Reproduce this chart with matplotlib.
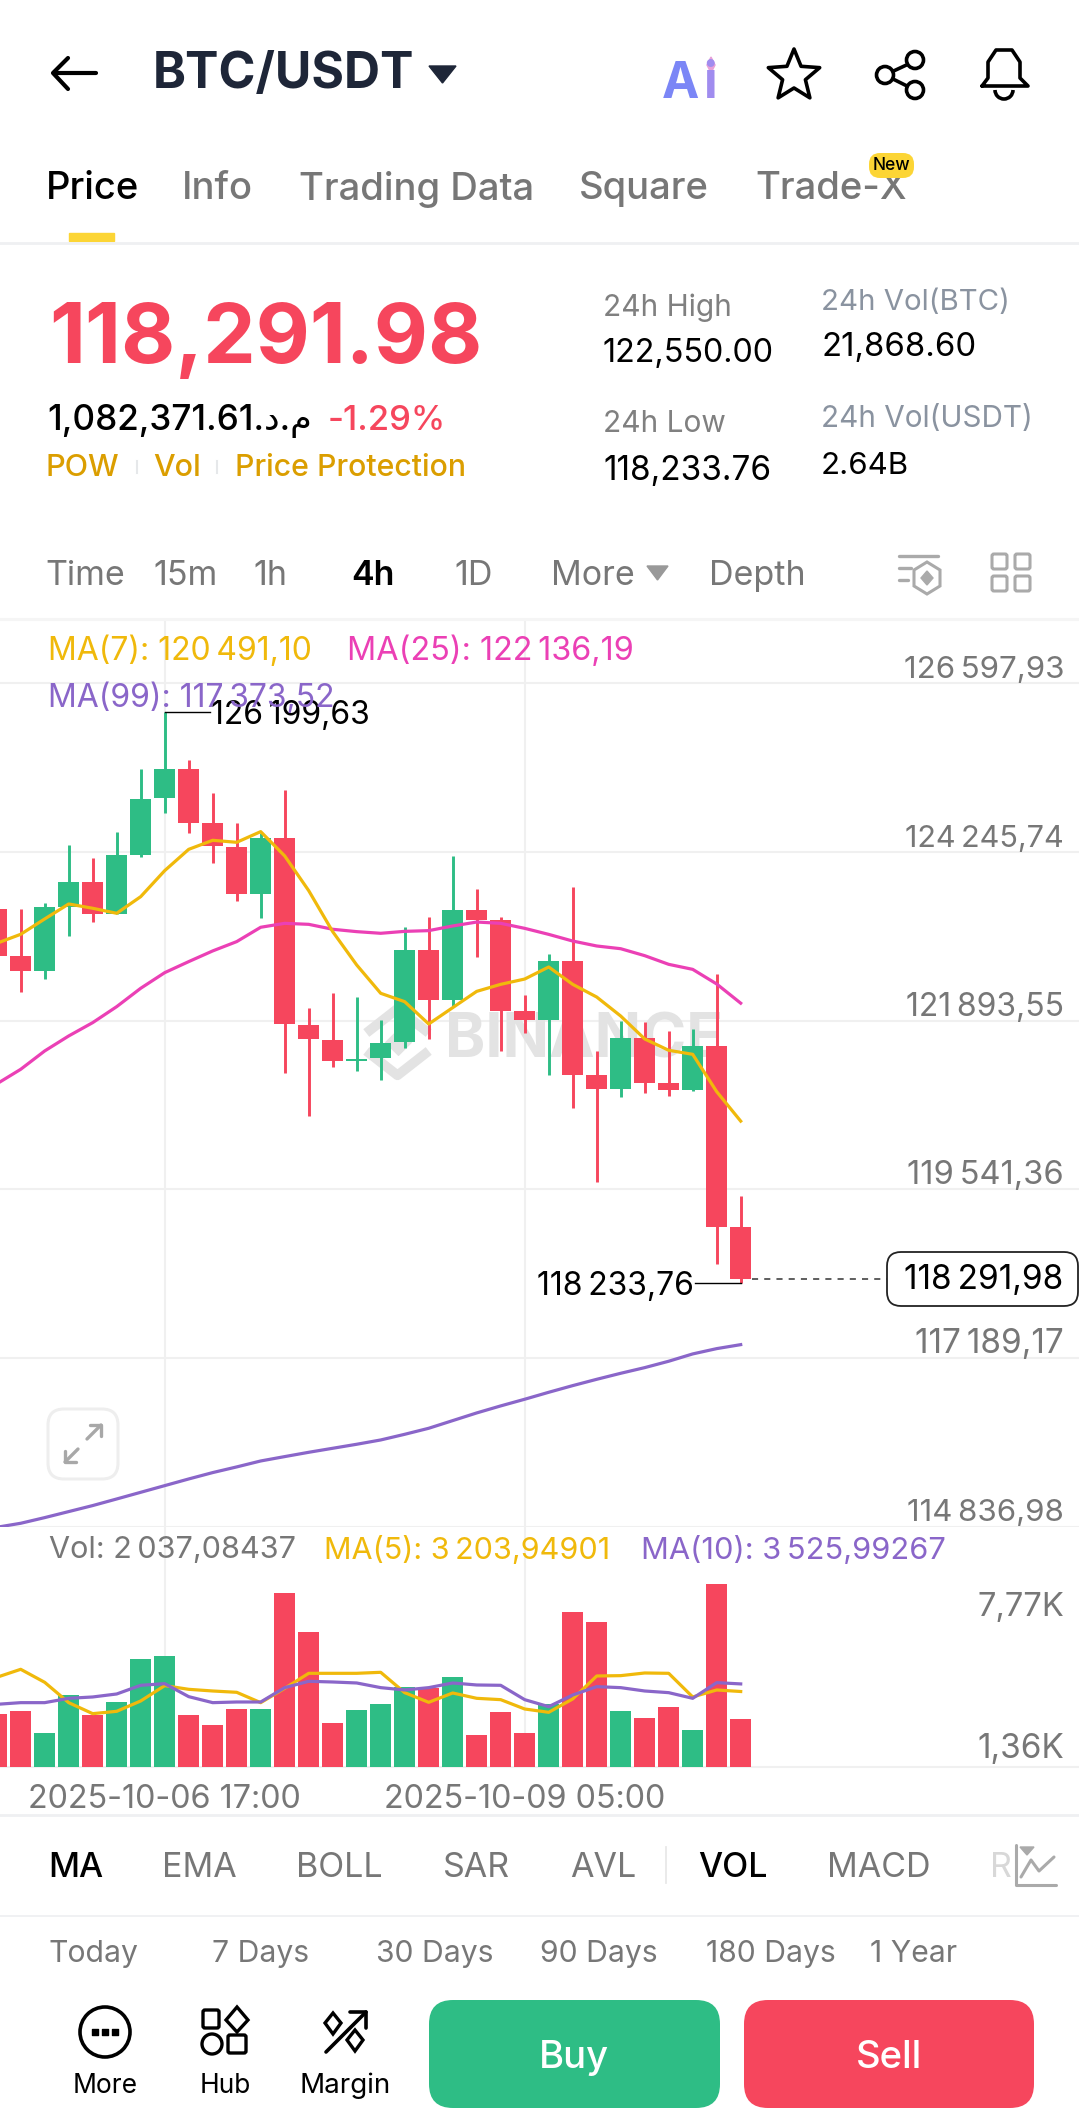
#!/usr/bin/env python3
"""BTC/USDT 4h candles, Binance app screen."""
import numpy as np
import matplotlib
matplotlib.use('Agg')
import matplotlib.pyplot as plt
from matplotlib.patches import FancyBboxPatch, Polygon, Circle, Rectangle, Arc

plt.rcParams['font.family'] = ['Inter', 'DejaVu Sans']

# candles, oldest first
opens = [123455, 122795, 122590, 123483, 123827, 123385, 124208, 124994, 125398, 124650, 124319, 123664,
         124445, 121837, 121628, 121335, 121372, 121590, 122878, 122181, 123440, 123296, 122027, 121902,
         122729, 121139, 120944, 121655, 121018, 120925, 121544, 119015]
closes = [122799, 122590, 123474, 123827, 123385, 124203, 124989, 125398, 124654, 124324, 123664, 124445,
          121842, 121632, 121335, 121363, 121586, 122878, 122181, 123440, 123296, 122032, 121902, 122729,
          121139, 120944, 121655, 121018, 120925, 121544, 119015, 118291.98]
highs = [123529, 123455, 123539, 124347, 124157, 124519, 125398, 126199.63, 125524, 125073, 124645, 124506,
         125114, 122074, 122283, 122218, 121902, 123194, 123343, 124189, 123729, 123333, 122255, 122822,
         123752, 121469, 121888, 121869, 121748, 121771, 122539, 119447]
lows = [122739, 122297, 122469, 123078, 123273, 123385, 124171, 124794, 124506, 124096, 123562, 123320,
        121168, 120568, 121251, 121196, 121065, 121516, 121641, 122102, 122785, 121469, 121720, 121139,
        120670, 119647, 120832, 120888, 120846, 120907, 118494, 118233.76]
ma7 = [122971, 123097, 123311, 123520, 123460, 123390, 123622, 123985, 124282, 124408, 124380, 124529,
       124190, 123706, 123134, 122669, 122274, 122157, 121846, 122074, 122301, 122399, 122473, 122641,
       122399, 122222, 121957, 121637, 121479, 121423, 120902, 120491.10]
ma25 = [121010, 121214, 121470, 121679, 121865, 122088, 122344, 122562, 122716, 122865, 122995, 123195,
        123250, 123236, 123167, 123134, 123111, 123138, 123148, 123213, 123268, 123250, 123180, 123096,
        123003, 122934, 122896, 122799, 122678, 122608, 122404, 122136.19]
ma99 = [114826, 114882, 114961, 115045, 115129, 115221, 115314, 115407, 115500, 115589, 115668, 115751,
        115812, 115872, 115928, 115984, 116044, 116123, 116207, 116314, 116421, 116519, 116612, 116709,
        116802, 116890, 116974, 117053, 117142, 117244, 117318, 117373.52]
volume = [2236, 2391, 1429, 3042, 2222, 2773, 4570, 4726, 2207, 1783, 2462, 2448,
          7372, 5731, 1882, 2406, 2674, 3410, 3368, 3806, 1358, 2321, 1457, 2674,
          6566, 6169, 2363, 2094, 2561, 1557, 7770, 2037.08]
vol_ma5 = [3806, 4146, 3594, 2731, 2264, 2363, 2802, 3453, 3297, 3226, 3170, 2731,
           3339, 3976, 3976, 3976, 4019, 3155, 2745, 3141, 2915, 2858, 2462, 2321,
           2887, 3863, 3877, 3990, 3976, 2972, 3269, 3203.95]
vol_ma10 = [2660, 2731, 2731, 2915, 2972, 3099, 3467, 3538, 2986, 2731, 2759, 2759,
            3368, 3637, 3608, 3566, 3368, 3269, 3368, 3566, 3481, 3467, 2858, 2561,
            3056, 3410, 3368, 3226, 3155, 2915, 3580, 3525.99]
price_ticks = [126597.93, 124245.74, 121893.55, 119541.36, 117189.17, 114836.98]
price_labels = ['126\u2009597,93', '124\u2009245,74', '121\u2009893,55', '119\u2009541,36', '117\u2009189,17', '114\u2009836,98']
date_ticks = [7, 22]
date_labels = ['2025-10-06 17:00', '2025-10-09 05:00']

GREEN = '#2EBD85'
RED = '#F6465D'
YELLOW = '#F0B90B'
PINK = '#EB40B5'
PURPLE = '#8A66C9'
GRID = '#F0F0F0'
GREY = '#777777'
W, H = 1079, 2128
# Inter's narrow 1 makes the labels uneven, the app's are all one width
tick_sizes = [22.5, 22, 23, 23.5, 24, 22.5]

fig = plt.figure(figsize=(W / 100, H / 100), dpi=100, facecolor='white')


def px_axes(top, bottom):
    ax = fig.add_axes([0, 1 - bottom / H, 1, (bottom - top) / H])
    ax.set_xlim(3.3 / 24, (W + 3.3) / 24)  # one candle every 24 px
    for s in ax.spines.values():
        s.set_visible(False)
    return ax


# price panel
ax = px_axes(621, 1526.5)
ax.set_ylim(114836.98, 126597.93 + 62.3 * 13.947)
x = np.arange(len(opens))
colors = [GREEN if c >= o else RED for o, c in zip(opens, closes)]
ax.set_yticks(price_ticks)
ax.set_xticks(date_ticks)
ax.tick_params(length=0, labelleft=False, labelbottom=False)
ax.grid(True, color=GRID, linewidth=1.5)
ax.set_axisbelow(True)

# watermark sits under the candles
WM = '#E3E3E3'
ax.text(18.68, 121600, 'BINANCE', fontsize=44, fontweight='bold', color=WM, ha='left', va='center', zorder=1)
ax.plot([15.4, 16.7, 18.0], [121470, 121130, 121470], color=WM, lw=7, zorder=1, solid_capstyle='butt')
ax.plot([15.4, 16.7, 18.0], [121720, 122060, 121720], color=WM, lw=7, zorder=1, solid_capstyle='butt')
ax.scatter([16.7], [121595], marker='D', s=170, color=WM, zorder=1)

ax.vlines(x, lows, highs, color=colors, linewidth=2.1, zorder=3)
ax.bar(x, np.abs(np.array(closes) - np.array(opens)), bottom=np.minimum(opens, closes),
       width=0.875, color=colors, zorder=3)
ax.plot(x, ma99, color=PURPLE, linewidth=2.3, zorder=4)
ax.plot(x, ma25, color=PINK, linewidth=2.3, zorder=4)
ax.plot(x, ma7, color=YELLOW, linewidth=2.3, zorder=4)
for p, lab, fs in zip(price_ticks, price_labels, tick_sizes):
    ax.annotate(lab, xy=(1064 / W, p), xycoords=('axes fraction', 'data'), xytext=(0, 3.6),
                textcoords='offset points', ha='right', va='baseline', fontsize=fs, color=GREY, zorder=6)

# high / low marks and last price
hi = int(np.argmax(highs))
lo = int(np.argmin(lows))
ax.plot([hi, hi + 1.88], [highs[hi], highs[hi]], color='black', linewidth=1, zorder=5)
ax.annotate('126\u2009199,63', xy=(hi + 1.92, highs[hi]), ha='left', va='center', fontsize=23, color='black',
            xytext=(0, -2.5), textcoords='offset points', zorder=6)
ax.plot([lo, lo - 1.9], [lows[lo], lows[lo]], color='black', linewidth=1, zorder=5)
ax.annotate('118\u2009233,76', xy=(lo - 1.94, lows[lo]), ha='right', va='center', fontsize=23, color='black',
            xytext=(0, -2.5), textcoords='offset points', zorder=6)
ax.plot([x[-1] + 0.45, 37.1], [closes[-1], closes[-1]], color='#333333', linewidth=1.1,
        linestyle=(0, (4, 4)), zorder=5)

# volume panel
vax = px_axes(1526.5, 1767)
vax.set_ylim(0, 240.5 * 42.44)
vax.set_yticks([])
vax.set_xticks(date_ticks)
vax.set_xticklabels(date_labels, fontsize=23.3, color=GREY)
vax.tick_params(axis='x', length=0, pad=12)
vax.grid(True, axis='x', color=GRID, linewidth=1.5)
vax.set_axisbelow(True)
vax.spines['bottom'].set_visible(True)
vax.spines['bottom'].set_color(GRID)
vax.spines['bottom'].set_linewidth(1.5)
vax.bar(x, volume, width=0.875, color=colors, zorder=3)
vax.plot(x, vol_ma5, color=YELLOW, linewidth=2.3, zorder=4)
vax.plot(x, vol_ma10, color=PURPLE, linewidth=2.3, zorder=4)

# everything else is app chrome, drawn in pixel coordinates
ui = fig.add_axes([0, 0, 1, 1], zorder=5)
ui.set_xlim(0, W)
ui.set_ylim(H, 0)
ui.axis('off')
ui.patch.set_alpha(0)


def label(px, py, s, size=21, color=GREY, weight='normal', ha='left', va='center'):
    ui.text(px, py + 3, s, fontsize=size, color=color, fontweight=weight, ha=ha, va=va)


def rule(y, color='#EFF0F2', lw=1.5):
    ui.plot([0, W], [y, y], color=color, linewidth=lw)


def line(xs, ys, color='black', lw=2.4):
    ui.plot(xs, ys, color=color, linewidth=lw, solid_capstyle='round', solid_joinstyle='round')


def box(x0, y0, x1, y1, r, **kw):
    ui.add_patch(FancyBboxPatch((x0, y0), x1 - x0, y1 - y0, boxstyle=f'round,pad=0,rounding_size={r}', **kw))


# header
line([54, 96], [73, 73], lw=3)
line([68, 53, 68], [58, 73, 89], lw=3)
label(153, 71, 'BTC/USDT', size=36, color='#1E2638', weight='bold')
ui.add_patch(Polygon([(429, 66), (456, 66), (442.5, 83)], color='#1E2638'))
label(662, 82, 'A', size=36, color='#7B86F6', weight='bold')
label(703, 82, 'i', size=36, color='#A08CEF', weight='bold')
ui.add_patch(Polygon([(711, 57), (715, 65), (711, 73), (707, 65)], color='#E8A0D8'))
angles = np.deg2rad(np.arange(10) * 36 - 90)
radii = np.where(np.arange(10) % 2 == 0, 27, 12)
ui.add_patch(Polygon(np.c_[794 + radii * np.cos(angles), 76 + radii * np.sin(angles)], fill=False, edgecolor='black', lw=2.6, joinstyle='round'))
line([885, 915], [75, 61], lw=2.6)
line([885, 915], [75, 90], lw=2.6)
for cx, cy in [(885, 75), (915, 60), (915, 90)]:
    ui.add_patch(Circle((cx, cy), 8.5, facecolor='white', edgecolor='black', lw=2.6, zorder=3))
line([982, 988, 988, 996, 1012, 1020, 1020, 1028, 982],
     [86, 78, 62, 50, 50, 62, 78, 86, 86], lw=2.6)
ui.add_patch(Arc((1004, 90), 18, 18, theta1=0, theta2=180, edgecolor='black', lw=2.6))

# tabs
label(46, 186, 'Price', size=27.5, color='black', weight='medium')
label(182, 186, 'Info', size=27.5, weight='medium')
label(299, 186, 'Trading Data', size=27.5, weight='medium')
label(579, 186, 'Square', size=27.5, weight='medium')
label(755, 186, 'Trade-X', size=27.5, weight='medium')
box(869, 153, 914, 178, 11, facecolor='#FCD535', edgecolor='none', zorder=3)
ui.text(891.5, 165.5, 'New', fontsize=12.5, color='black', ha='center', va='center', fontweight='medium', zorder=4)
ui.add_patch(Rectangle((69, 233), 45, 8, color='#FCD535'))
rule(243, lw=2)

# ticker block
label(49, 338, '118,291.98', size=60, color=RED, weight='bold')
label(47, 418, '1,082,371.61.\u062F.\u0645', size=25.3, color='black', weight='medium')
label(328, 418, '-1.29%', size=25, color=RED, weight='medium')
label(45, 465, 'POW', size=22, color='#DB9E00', weight='medium')
label(153, 465, 'Vol', size=22, color='#DB9E00', weight='medium')
label(235, 465, 'Price Protection', size=21.8, color='#DB9E00', weight='medium')
for sx in (137, 217):
    ui.plot([sx, sx], [461, 473], color='#E6E8EA', linewidth=1.5)
label(603, 305, '24h High', size=21.5, color='#808080')
label(603, 350, '122,550.00', size=23.3, color='black')
label(603, 421, '24h Low', size=21.5, color='#808080')
label(603, 468, '118,233.76', size=24, color='black')
label(821, 300, '24h Vol(BTC)', size=21.2, color='#8A93A0')
label(821, 345, '21,868.60', size=23.7, color='black')
label(821, 416, '24h Vol(USDT)', size=21.4, color='#8A93A0')
label(821, 463, '2.64B', size=22.5, color='black')

# interval row
for px, s in [(45, 'Time'), (153, '15m'), (253, '1h'), (454, '1D'), (551, 'More'), (709, 'Depth')]:
    label(px, 573, s, size=24.5)
label(351, 573, '4h', size=24.5, color='black', weight='semibold')
ui.add_patch(Polygon([(647, 566), (668, 566), (657.5, 580)], color='#999999'))
line([899, 938], [556, 556], color='#AAAAAA', lw=2.4)
line([899, 911], [568, 568], color='#AAAAAA', lw=2.4)
line([899, 908], [580, 580], color='#AAAAAA', lw=2.4)
ui.add_patch(Polygon([(927, 562), (940, 570), (940, 586), (927, 594), (914, 586), (914, 570)], fill=False, edgecolor='#AAAAAA', lw=2.2))
ui.add_patch(Polygon([(927, 571), (933, 578), (927, 585), (921, 578)], color='#AAAAAA'))
for gx in (992, 1015):
    for gy in (554, 576):
        box(gx, gy, gx + 15, gy + 15, 2, fill=False, edgecolor='#AAAAAA', lw=2.2)
rule(619, color='#F5F5F5', lw=2.2)

# MA readouts
label(48, 648, 'MA(7): 120\u2009491,10', size=23, color=YELLOW)
label(347, 648, 'MA(25): 122\u2009136,19', size=23.3, color=PINK)
label(48, 695, 'MA(99): 117\u2009373,52', size=23, color=PURPLE)
label(49, 1547, 'Vol: 2\u2009037,08437', size=22, color=GREY)
label(324, 1547, 'MA(5): 3\u2009203,94901', size=22, color=YELLOW)
label(641, 1547, 'MA(10): 3\u2009525,99267', size=22.2, color=PURPLE)
label(1064, 1604, '7,77K', size=23.5, ha='right')
label(1064, 1746, '1,36K', size=24, ha='right')

# last price tag
box(887, 1252, 1078, 1306, 14, facecolor='white', edgecolor='#222222', lw=1.3)
label(904, 1277, '118\u2009291,98', size=24, color='black')

# expand button
box(48, 1409, 118, 1479, 16, facecolor='white', edgecolor='#EEEEEE', lw=2.2)
line([87, 101], [1439, 1425], color='#A8A8A8', lw=2.4)
line([90, 101, 101], [1425, 1425, 1436], color='#A8A8A8', lw=2.4)
line([65, 78], [1462, 1449], color='#A8A8A8', lw=2.4)
line([65, 65, 76], [1451, 1462, 1462], color='#A8A8A8', lw=2.4)

# indicator row
rule(1815, lw=2)
for px, s in [(162, 'EMA'), (296, 'BOLL'), (443, 'SAR'), (570, 'AVL'), (827, 'MACD')]:
    label(px, 1865, s, size=24.5)
label(48, 1865, 'MA', size=24.5, color='black', weight='medium')
label(698, 1865, 'VOL', size=24.5, color='black', weight='medium')
label(990, 1865, 'R', size=24.5, color='#D8D8D8')
ui.plot([666, 666], [1847, 1883], color='#E8E8E8', linewidth=1.3)
line([1016, 1016, 1056], [1845, 1885, 1885], color='#AAAAAA', lw=2.2)
line([1021, 1031, 1039, 1054], [1877, 1860, 1871, 1857], color='#AAAAAA', lw=2.2)
ui.add_patch(Polygon([(1020, 1847), (1034, 1847), (1027, 1855)], color='#AAAAAA'))
rule(1916, lw=1.3)

# range row
for px, s in [(48, 'Today'), (212, '7 Days'), (376, '30 Days'), (540, '90 Days'), (706, '180 Days'), (870, '1 Year')]:
    label(px, 1951, s, size=21.7)

# bottom bar
ui.add_patch(Circle((105, 2032), 25, fill=False, edgecolor='black', lw=2.6))
ui.scatter([95, 105, 115], [2032, 2032, 2032], s=16, color='black', marker='s')
box(203, 2010, 219, 2028, 2, fill=False, edgecolor='black', lw=2.4)
box(228, 2035, 246, 2053, 2, fill=False, edgecolor='black', lw=2.4)
ui.add_patch(Polygon([(237, 2007), (248, 2020), (237, 2032), (226, 2020)], fill=False, edgecolor='black', lw=2.4))
ui.add_patch(Circle((212, 2044), 10, fill=False, edgecolor='black', lw=2.4))
line([326, 366], [2052, 2012], lw=2.6)
line([350, 366, 366], [2012, 2012, 2028], lw=2.6)
ui.add_patch(Polygon([(333, 2013), (341, 2023), (333, 2034), (325, 2023)], fill=False, edgecolor='black', lw=2.4))
ui.add_patch(Polygon([(355, 2030), (363, 2040), (355, 2051), (347, 2040)], fill=False, edgecolor='black', lw=2.4))
label(105, 2083, 'More', size=19, color='black', ha='center')
label(225, 2083, 'Hub', size=19, color='black', ha='center')
label(345, 2083, 'Margin', size=20, color='black', ha='center')
box(429, 2000, 720, 2108, 24, facecolor=GREEN, edgecolor='none')
box(744, 2000, 1034, 2108, 24, facecolor=RED, edgecolor='none')
ui.text(574, 2058, 'Buy', fontsize=27.5, color='white', fontweight='medium', ha='center', va='center')
ui.text(889, 2058, 'Sell', fontsize=27.5, color='white', fontweight='medium', ha='center', va='center')

fig.savefig('out.png', dpi=100, facecolor='white')
plt.close()
